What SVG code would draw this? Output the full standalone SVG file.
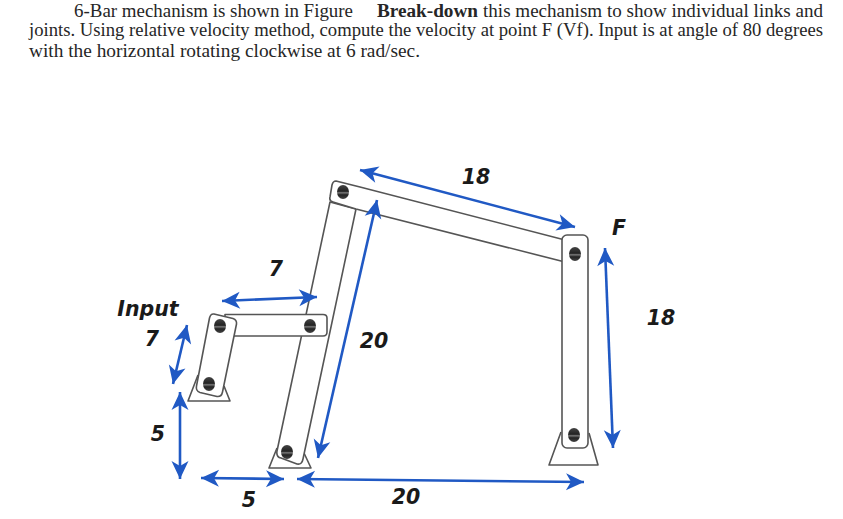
<svg xmlns="http://www.w3.org/2000/svg" width="843" height="519" viewBox="0 0 843 519">
<style>
.t{font-family:"Liberation Serif","Times New Roman",serif;font-size:18.500px;fill:#262626}
.b{font-weight:bold}
.l{font-family:"DejaVu Sans",Verdana,sans-serif;font-size:20.500px;font-weight:bold;font-style:italic;fill:#1a1a1a;text-anchor:middle}
.s{fill:#fff;stroke:#555;stroke-width:1.6;stroke-linejoin:round}
.a{fill:none;stroke:#2059c4;stroke-width:2.600;marker-start:url(#h);marker-end:url(#h)}
</style>
<defs>
<marker id="h" markerUnits="userSpaceOnUse" markerWidth="22" markerHeight="20" refX="19" refY="9" orient="auto-start-reverse" viewBox="0 0 22 20">
<path d="M19 9L1 0.500L6 9L1 17.500Z" fill="#2059c4"/>
</marker>
<linearGradient id="p" x1="0" y1="0" x2="0" y2="1">
<stop offset="0" stop-color="#444"/><stop offset=".45" stop-color="#222"/><stop offset=".55" stop-color="#777"/><stop offset=".7" stop-color="#222"/><stop offset="1" stop-color="#444"/>
</linearGradient>
<ellipse id="pin" rx="6" ry="7" fill="url(#p)"/>
</defs>
<rect width="843" height="519" fill="#fff"/>
<g id="problem-text">
<text class="t" x="74" y="16.500" textLength="279" lengthAdjust="spacingAndGlyphs">6-Bar mechanism is shown in Figure</text>
<text class="t b" x="377" y="16.500" textLength="101" lengthAdjust="spacingAndGlyphs">Break-down</text>
<text class="t" x="483" y="16.500" textLength="340" lengthAdjust="spacingAndGlyphs">this mechanism to show individual links and</text>
<text class="t" x="29" y="36" textLength="794" lengthAdjust="spacingAndGlyphs">joints. Using relative velocity method, compute the velocity at point F (Vf). Input is at angle of 80 degrees</text>
<text class="t" x="29" y="57" textLength="391" lengthAdjust="spacingAndGlyphs">with the horizontal rotating clockwise at 6 rad/sec.</text>
</g>
<g id="ground-left"><path class="s" d="M198 375L188 401H230L224 386"/></g>
<g id="ground-middle"><path class="s" d="M277 448L269 468H311L304 453"/></g>
<g id="ground-right"><path class="s" d="M561 432L549 465H598L589 433"/></g>
<g id="link-long"><path class="s" d="M330 202L277 451Q276 457 281 458L297 464Q302 465 303 459L356 209Z"/>
<use href="#pin" x="287" y="452"/></g>
<g id="link-horizontal"><path class="s" d="M225 314.500H323Q327 314.500 327 318V332Q327 336 323 336H225Z"/>
<use href="#pin" x="310" y="326"/></g>
<g id="link-input"><path class="s" d="M214 314L233 318.500Q237 320 236.500 324L222.500 392Q221.500 397 217 396.500L200 392.500Q195.500 391 196.500 386L209.500 318Q210.500 313.500 214 314Z"/>
<use href="#pin" x="220" y="326"/><use href="#pin" x="209" y="384"/></g>
<g id="link-top"><path class="s" d="M336 181L360 187L565 240V262L356 209L333 202Q329 201 330 197L332 185Q333 181 336 181Z"/>
<use href="#pin" x="343" y="192"/></g>
<g id="link-right"><rect class="s" x="562" y="235" width="26" height="213" rx="5"/>
<use href="#pin" x="575" y="254"/><use href="#pin" x="574" y="435"/></g>
<g id="connectors">
<path class="a" d="M222 301L317 297"/>
<path class="a" d="M187 325L173 384"/>
<path class="a" d="M180 392V479"/>
<path class="a" d="M201 478L284 479"/>
<path class="a" d="M297 479L584 482"/>
<path class="a" d="M377 200L318 458"/>
<path class="a" d="M360 170L575 227"/>
<path class="a" d="M605 248L613 448"/>
</g>
<g id="labels">
<text class="l" x="148" y="316">Input</text>
<text class="l" x="152" y="346">7</text>
<text class="l" x="276" y="276">7</text>
<text class="l" x="158" y="441">5</text>
<text class="l" x="249" y="507">5</text>
<text class="l" x="374" y="348">20</text>
<text class="l" x="406" y="504">20</text>
<text class="l" x="476" y="184">18</text>
<text class="l" x="661" y="325">18</text>
<text class="l" x="619" y="235">F</text>
</g>
</svg>
